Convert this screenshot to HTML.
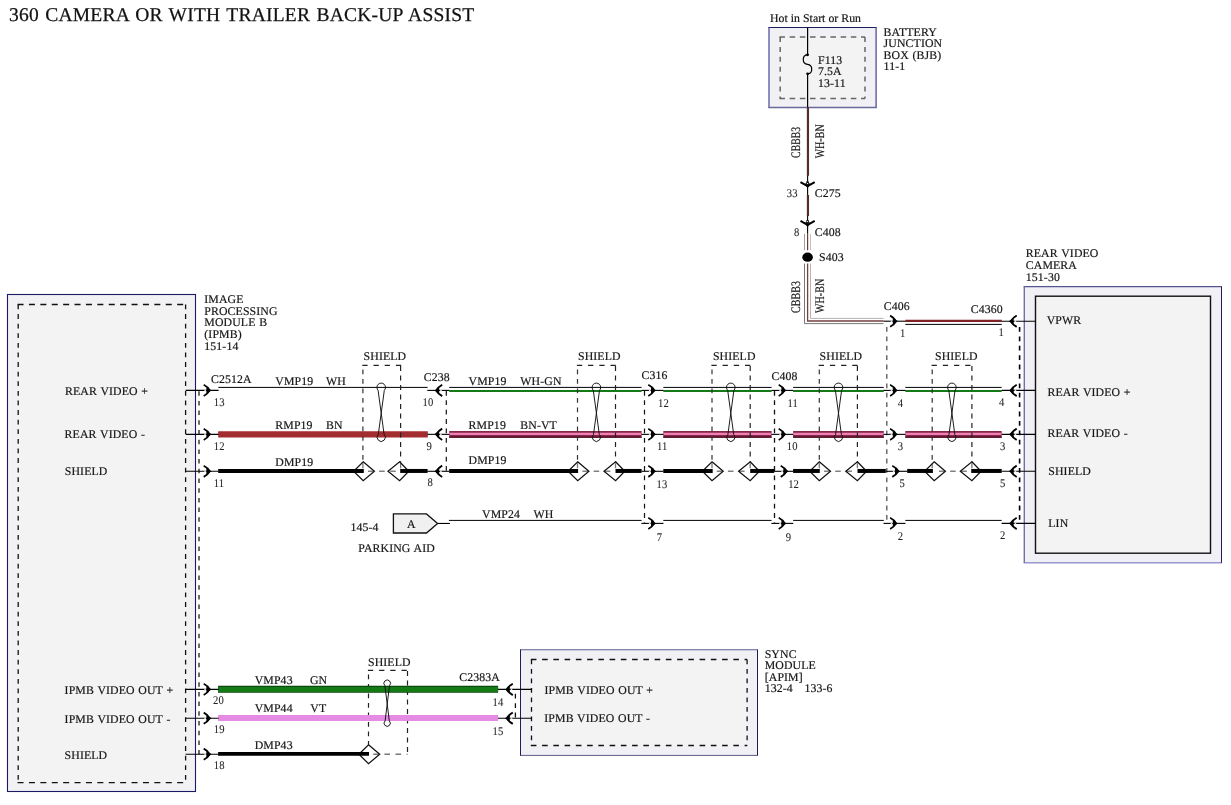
<!DOCTYPE html>
<html lang="en"><head><meta charset="utf-8"><title>360 Camera wiring diagram</title>
<style>html,body{margin:0;padding:0;background:#fff}svg{display:block;will-change:transform;opacity:0.999}text{stroke:#151515;stroke-width:.18px;letter-spacing:.12px;word-spacing:.6px}text.p{fill:#262626;stroke:#262626;stroke-width:.08px}text.t{word-spacing:1.1px;letter-spacing:.235px;stroke-width:.25px}</style></head>
<body>
<svg width="1231" height="805" viewBox="0 0 1231 805" font-family="'Liberation Serif', serif" font-size="11.8" fill="#151515" text-rendering="geometricPrecision">
<rect x="0" y="0" width="1231" height="805" fill="#fff"/>
<text x="9" y="21.3" font-size="19.5" fill="#111" class="t">360 CAMERA OR WITH TRAILER BACK-UP ASSIST</text>
<rect x="769.0" y="27.5" width="107.1" height="80.0" fill="#f1f1f5"/>
<line x1="768.25" y1="27.5" x2="876.9" y2="27.5" stroke="#1e1e5c" stroke-width="1.0"/>
<line x1="768.25" y1="107.5" x2="876.9" y2="107.5" stroke="#6a6a9a" stroke-width="1.3"/>
<line x1="769.0" y1="27.5" x2="769.0" y2="107.5" stroke="#6868ae" stroke-width="1.5"/>
<line x1="876.1" y1="27.5" x2="876.1" y2="107.5" stroke="#6e6ea4" stroke-width="1.6"/>
<rect x="780.2" y="37" width="84.8" height="61.4" fill="#f3f3f3"/>
<line x1="779.45" y1="37" x2="865" y2="37" stroke="#666" stroke-width="1.5" stroke-dasharray="5.5 4.7"/>
<line x1="779.45" y1="98.4" x2="865" y2="98.4" stroke="#666" stroke-width="1.5" stroke-dasharray="5.5 4.7"/>
<line x1="780.2" y1="37" x2="780.2" y2="98.4" stroke="#666" stroke-width="1.5" stroke-dasharray="5 4.9"/>
<line x1="865" y1="37" x2="865" y2="98.4" stroke="#666" stroke-width="1.5" stroke-dasharray="5 4.9"/>
<text x="770" y="21.7" style="letter-spacing:0.03px;word-spacing:0">Hot in Start or Run</text>
<text x="883.6" y="35.6">BATTERY</text>
<text x="883.6" y="47.1">JUNCTION</text>
<text x="883.6" y="58.6">BOX (BJB)</text>
<text x="883.6" y="70.1">11-1</text>
<text x="818" y="63.8">F113</text>
<text x="818" y="75.3">7.5A</text>
<text x="818" y="86.8">13-11</text>
<line x1="807.6" y1="27.4" x2="807.6" y2="54.6" stroke="#000" stroke-width="1.2"/>
<line x1="807.6" y1="74" x2="807.6" y2="107.4" stroke="#000" stroke-width="1.2"/>
<path d="M807.6,54.6 C801.8000000000001,55.3 801.8000000000001,63.5 807.6,64.3 C813.1,65.1 813.1,73.3 807.6,74" fill="none" stroke="#000" stroke-width="1.2"/>
<circle cx="807.6" cy="54.8" r="1.4" fill="#000"/><circle cx="807.6" cy="73.8" r="1.4" fill="#000"/>
<line x1="807.95" y1="107.4" x2="807.95" y2="175.8" stroke="#582c2c" stroke-width="2.2"/>
<line x1="807.6" y1="175.6" x2="807.6" y2="195" stroke="#000" stroke-width="1.1"/>
<g transform="translate(807.6,187.0) rotate(90)"><path d="M-4.9,-7.1 Q-2.6,-3.2 -0.9,0 Q-2.6,3.2 -4.9,7.1" fill="none" stroke="#000" stroke-width="2.0"/><path d="M-3.4,-2.9 L1.6,0 L-3.4,2.9 Z" fill="#000"/></g>
<rect x="806.7" y="181.8" width="1.8" height="2.6" fill="#fff" stroke="#000" stroke-width="0.8"/>
<line x1="807.95" y1="195" x2="807.95" y2="216" stroke="#582c2c" stroke-width="2.2"/>
<line x1="807.6" y1="215.8" x2="807.6" y2="233.8" stroke="#000" stroke-width="1.1"/>
<g transform="translate(807.6,225.8) rotate(90)"><path d="M-4.9,-7.1 Q-2.6,-3.2 -0.9,0 Q-2.6,3.2 -4.9,7.1" fill="none" stroke="#000" stroke-width="2.0"/><path d="M-3.4,-2.9 L1.6,0 L-3.4,2.9 Z" fill="#000"/></g>
<rect x="806.7" y="220.6" width="1.8" height="2.6" fill="#fff" stroke="#000" stroke-width="0.8"/>
<line x1="804.5" y1="233.8" x2="804.5" y2="250.2" stroke="#8a8486" stroke-width="0.8"/>
<line x1="810.5" y1="233.8" x2="810.5" y2="250.2" stroke="#b0a4a4" stroke-width="0.7"/>
<line x1="807.6" y1="233.8" x2="807.6" y2="250.2" stroke="#6b3c3c" stroke-width="1.2"/>
<path d="M804.5,263.6 L804.5,323.6 L883.5,323.6" fill="none" stroke="#666a66" stroke-width="0.9"/>
<path d="M810.5,263.6 L810.5,318.4 L883.5,318.4" fill="none" stroke="#a89e9e" stroke-width="0.8"/>
<path d="M807.6,263.6 L807.6,321.0 L883.5,321.0" fill="none" stroke="#754040" stroke-width="1.3"/>
<ellipse cx="807.6" cy="257.2" rx="5.3" ry="4.6" fill="#000"/>
<text class="p" transform="translate(786.8,196.8) scale(0.9,1)">33</text>
<text x="814.8" y="196.8">C275</text>
<text class="p" transform="translate(794.0,235.6) scale(0.9,1)">8</text>
<text x="814.8" y="235.6">C408</text>
<text x="819" y="261">S403</text>
<text transform="translate(799.9,157.9) rotate(-90)" font-size="13" textLength="31.2" lengthAdjust="spacingAndGlyphs">CBBB3</text>
<text transform="translate(824.0,158.3) rotate(-90)" font-size="13" textLength="34" lengthAdjust="spacingAndGlyphs">WH-BN</text>
<text transform="translate(799.9,313.0) rotate(-90)" font-size="13" textLength="32.0" lengthAdjust="spacingAndGlyphs">CBBB3</text>
<text transform="translate(824.0,313.1) rotate(-90)" font-size="13" textLength="34.3" lengthAdjust="spacingAndGlyphs">WH-BN</text>
<rect x="7.5" y="294.5" width="188.0" height="497.0" stroke="#1a1a66" stroke-width="1.1" fill="#f2f2f4"/>
<rect x="18.2" y="304.5" width="167.4" height="478.1" fill="#f3f3f3"/>
<line x1="17.55" y1="304.5" x2="185.6" y2="304.5" stroke="#111" stroke-width="1.3" stroke-dasharray="6 5.4"/>
<line x1="17.55" y1="782.6" x2="185.6" y2="782.6" stroke="#111" stroke-width="1.3" stroke-dasharray="6 5.4"/>
<line x1="18.2" y1="304.5" x2="18.2" y2="782.6" stroke="#111" stroke-width="1.3" stroke-dasharray="4.8 4.8"/>
<line x1="185.6" y1="304.5" x2="185.6" y2="782.6" stroke="#111" stroke-width="1.3" stroke-dasharray="4.8 4.8"/>
<text x="204.3" y="303.2">IMAGE</text>
<text x="204.3" y="314.82">PROCESSING</text>
<text x="204.3" y="326.44">MODULE B</text>
<text x="204.3" y="338.06">(IPMB)</text>
<text x="204.3" y="349.68">151-14</text>
<text x="65" y="394.8">REAR VIDEO +</text>
<text x="64.6" y="437.9">REAR VIDEO -</text>
<text x="64.8" y="474.5">SHIELD</text>
<text x="64.6" y="694.1">IPMB VIDEO OUT +</text>
<text x="64.6" y="722.9">IPMB VIDEO OUT -</text>
<text x="64.6" y="759.4">SHIELD</text>
<line x1="199.0" y1="391.2" x2="199.0" y2="754.5" stroke="#5c5c5c" stroke-width="1.8" stroke-dasharray="4.5 5.2"/>
<rect x="1024.3" y="286.6" width="197.2" height="276.2" fill="#f1f1f5"/>
<line x1="1023.5999999999999" y1="286.6" x2="1222.0" y2="286.6" stroke="#54548e" stroke-width="1.1"/>
<line x1="1023.5999999999999" y1="562.8" x2="1222.0" y2="562.8" stroke="#9898d2" stroke-width="1.5"/>
<line x1="1024.3" y1="286.6" x2="1024.3" y2="562.8" stroke="#7070a8" stroke-width="1.4"/>
<line x1="1221.5" y1="286.6" x2="1221.5" y2="562.8" stroke="#1e1e5c" stroke-width="1.0"/>
<rect x="1035.5" y="296.2" width="175.0" height="257.0" stroke="#111" stroke-width="1.4" fill="#f3f3f3"/>
<text x="1025.8" y="257.0">REAR VIDEO</text>
<text x="1025.8" y="269.0">CAMERA</text>
<text x="1025.8" y="281.0">151-30</text>
<text x="1046.7" y="323.9">VPWR</text>
<text x="1047.5" y="395.7">REAR VIDEO +</text>
<text x="1047.4" y="437.3">REAR VIDEO -</text>
<text x="1048.3" y="474.9">SHIELD</text>
<text x="1048.3" y="527">LIN</text>
<rect x="520.5" y="649.7" width="237.0" height="105.7" fill="#f1f1f5"/>
<line x1="520.0" y1="649.7" x2="758.0" y2="649.7" stroke="#5e5e94" stroke-width="1.1"/>
<line x1="520.0" y1="755.4" x2="758.0" y2="755.4" stroke="#5c5c86" stroke-width="1.0"/>
<line x1="520.5" y1="649.7" x2="520.5" y2="755.4" stroke="#1c1c60" stroke-width="1.0"/>
<line x1="757.5" y1="649.7" x2="757.5" y2="755.4" stroke="#1c1c58" stroke-width="1.0"/>
<rect x="531.5" y="659.5" width="215.6" height="86.0" fill="#f3f3f3"/>
<line x1="530.85" y1="659.5" x2="747.1" y2="659.5" stroke="#111" stroke-width="1.3" stroke-dasharray="5.6 5.65"/>
<line x1="530.85" y1="745.5" x2="747.1" y2="745.5" stroke="#111" stroke-width="1.3" stroke-dasharray="5.6 5.65"/>
<line x1="531.5" y1="659.5" x2="531.5" y2="745.5" stroke="#111" stroke-width="1.3" stroke-dasharray="4.7 4.8"/>
<line x1="747.1" y1="659.5" x2="747.1" y2="745.5" stroke="#111" stroke-width="1.3" stroke-dasharray="4.7 4.8"/>
<text x="764.7" y="657.8">SYNC</text>
<text x="764.7" y="669.1999999999999">MODULE</text>
<text x="764.7" y="680.5999999999999">[APIM]</text>
<text x="764.7" y="692.0">132-4</text>
<text x="804.5" y="692.0">133-6</text>
<text x="544.5" y="693.5">IPMB VIDEO OUT +</text>
<text x="544.3" y="722.1">IPMB VIDEO OUT -</text>
<line x1="446.3" y1="390.9" x2="446.3" y2="470.8" stroke="#111" stroke-width="1.2" stroke-dasharray="4.8 4.6"/>
<line x1="644.5" y1="390.9" x2="644.5" y2="523.4" stroke="#111" stroke-width="1.2" stroke-dasharray="4.8 4.6"/>
<line x1="774.5" y1="390.9" x2="774.5" y2="523.4" stroke="#111" stroke-width="1.3" stroke-dasharray="4.8 4.6"/>
<line x1="886.8" y1="327" x2="886.8" y2="523.4" stroke="#555" stroke-width="1.3" stroke-dasharray="4.8 4.6"/>
<line x1="1019.6" y1="327" x2="1019.6" y2="523.4" stroke="#000" stroke-width="1.6" stroke-dasharray="4.8 4.6"/>
<line x1="218.3" y1="387.4" x2="427.6" y2="387.4" stroke="#000" stroke-width="1.0"/>
<line x1="449.2" y1="387.4" x2="641.6" y2="387.4" stroke="#000" stroke-width="1.0"/>
<line x1="449.2" y1="390.9" x2="641.6" y2="390.9" stroke="#137a16" stroke-width="2.0"/>
<line x1="663.3" y1="387.4" x2="771.6" y2="387.4" stroke="#000" stroke-width="1.0"/>
<line x1="663.3" y1="390.9" x2="771.6" y2="390.9" stroke="#137a16" stroke-width="2.0"/>
<line x1="793.1" y1="387.4" x2="883.8" y2="387.4" stroke="#000" stroke-width="1.0"/>
<line x1="793.1" y1="390.9" x2="883.8" y2="390.9" stroke="#137a16" stroke-width="2.0"/>
<line x1="905.3" y1="387.4" x2="1001.7" y2="387.4" stroke="#000" stroke-width="1.0"/>
<line x1="905.3" y1="390.9" x2="1001.7" y2="390.9" stroke="#137a16" stroke-width="2.0"/>
<line x1="218.2" y1="434.35" x2="427.8" y2="434.35" stroke="#a22c30" stroke-width="6.4"/>
<line x1="449.2" y1="434.40000000000003" x2="641.6" y2="434.40000000000003" stroke="#84294c" stroke-width="6.8"/>
<line x1="449.2" y1="437.20000000000005" x2="641.6" y2="437.20000000000005" stroke="#4a0b1c" stroke-width="1.2"/>
<line x1="449.2" y1="433.90000000000003" x2="641.6" y2="433.90000000000003" stroke="#f47fb4" stroke-width="2.4"/>
<line x1="663.3" y1="434.40000000000003" x2="771.6" y2="434.40000000000003" stroke="#84294c" stroke-width="6.8"/>
<line x1="663.3" y1="437.20000000000005" x2="771.6" y2="437.20000000000005" stroke="#4a0b1c" stroke-width="1.2"/>
<line x1="663.3" y1="433.90000000000003" x2="771.6" y2="433.90000000000003" stroke="#f47fb4" stroke-width="2.4"/>
<line x1="793.1" y1="434.40000000000003" x2="883.8" y2="434.40000000000003" stroke="#84294c" stroke-width="6.8"/>
<line x1="793.1" y1="437.20000000000005" x2="883.8" y2="437.20000000000005" stroke="#4a0b1c" stroke-width="1.2"/>
<line x1="793.1" y1="433.90000000000003" x2="883.8" y2="433.90000000000003" stroke="#f47fb4" stroke-width="2.4"/>
<line x1="905.3" y1="434.40000000000003" x2="1001.7" y2="434.40000000000003" stroke="#84294c" stroke-width="6.8"/>
<line x1="905.3" y1="437.20000000000005" x2="1001.7" y2="437.20000000000005" stroke="#4a0b1c" stroke-width="1.2"/>
<line x1="905.3" y1="433.90000000000003" x2="1001.7" y2="433.90000000000003" stroke="#f47fb4" stroke-width="2.4"/>
<line x1="448.9" y1="520.4" x2="641.6" y2="520.4" stroke="#000" stroke-width="1.0"/>
<line x1="663.3" y1="520.4" x2="771.6" y2="520.4" stroke="#000" stroke-width="1.0"/>
<line x1="793.1" y1="520.4" x2="883.8" y2="520.4" stroke="#000" stroke-width="1.0"/>
<line x1="905.3" y1="520.4" x2="1001.7" y2="520.4" stroke="#000" stroke-width="1.0"/>
<line x1="905.3" y1="320.8" x2="1001.8" y2="320.8" stroke="#7e2226" stroke-width="2.2"/>
<line x1="905.3" y1="324.4" x2="1001.8" y2="324.4" stroke="#000" stroke-width="1.0"/>
<line x1="362.29999999999995" y1="365.4" x2="401.20000000000005" y2="365.4" stroke="#222" stroke-width="1.2" stroke-dasharray="5.3 5.9"/>
<line x1="362.9" y1="369.4" x2="362.9" y2="461.75" stroke="#333" stroke-width="1.2" stroke-dasharray="4.9 4.6"/>
<line x1="400.6" y1="366.0" x2="400.6" y2="461.75" stroke="#222" stroke-width="1.2" stroke-dasharray="4.9 4.6"/>
<line x1="362.9" y1="463.25" x2="362.9" y2="470.25" stroke="#777" stroke-width="1.3" stroke-dasharray="5 2"/>
<line x1="400.6" y1="463.25" x2="400.6" y2="470.25" stroke="#777" stroke-width="1.3" stroke-dasharray="5 2"/>
<line x1="368.0" y1="471.25" x2="398.6" y2="471.25" stroke="#808080" stroke-width="1.5" stroke-dasharray="5.6 5.5"/>
<path d="M363.2,461.8 L374.4,471.25 L363.2,480.7 L353.59999999999997,471.25 Z" fill="none" stroke="#111" stroke-width="1.25"/>
<path d="M399.6,461.8 L408.8,471.25 L399.6,480.7 L388.0,471.25 Z" fill="none" stroke="#111" stroke-width="1.25"/>
<text x="363.6" y="360.0">SHIELD</text>
<line x1="576.9" y1="365.4" x2="616.1" y2="365.4" stroke="#222" stroke-width="1.2" stroke-dasharray="5.3 5.9"/>
<line x1="577.5" y1="369.4" x2="577.5" y2="461.75" stroke="#333" stroke-width="1.2" stroke-dasharray="4.9 4.6"/>
<line x1="615.5" y1="366.0" x2="615.5" y2="461.75" stroke="#222" stroke-width="1.2" stroke-dasharray="4.9 4.6"/>
<line x1="577.5" y1="463.25" x2="577.5" y2="470.25" stroke="#777" stroke-width="1.3" stroke-dasharray="5 2"/>
<line x1="615.5" y1="463.25" x2="615.5" y2="470.25" stroke="#777" stroke-width="1.3" stroke-dasharray="5 2"/>
<line x1="582.5" y1="471.25" x2="614.6" y2="471.25" stroke="#808080" stroke-width="1.5" stroke-dasharray="5.6 5.5"/>
<path d="M577.7,461.8 L588.9000000000001,471.25 L577.7,480.7 L568.1,471.25 Z" fill="none" stroke="#111" stroke-width="1.25"/>
<path d="M615.6,461.8 L624.8000000000001,471.25 L615.6,480.7 L604.0,471.25 Z" fill="none" stroke="#111" stroke-width="1.25"/>
<text x="578.0" y="360.0">SHIELD</text>
<line x1="711.4" y1="365.4" x2="750.8000000000001" y2="365.4" stroke="#222" stroke-width="1.2" stroke-dasharray="5.3 5.9"/>
<line x1="712.0" y1="369.4" x2="712.0" y2="461.75" stroke="#333" stroke-width="1.2" stroke-dasharray="4.9 4.6"/>
<line x1="750.2" y1="366.0" x2="750.2" y2="461.75" stroke="#222" stroke-width="1.2" stroke-dasharray="4.9 4.6"/>
<line x1="712.0" y1="463.25" x2="712.0" y2="470.25" stroke="#777" stroke-width="1.3" stroke-dasharray="5 2"/>
<line x1="750.2" y1="463.25" x2="750.2" y2="470.25" stroke="#777" stroke-width="1.3" stroke-dasharray="5 2"/>
<line x1="716.8" y1="471.25" x2="749.2" y2="471.25" stroke="#808080" stroke-width="1.5" stroke-dasharray="5.6 5.5"/>
<path d="M712.0,461.8 L723.2,471.25 L712.0,480.7 L702.4,471.25 Z" fill="none" stroke="#111" stroke-width="1.25"/>
<path d="M750.2,461.8 L759.4000000000001,471.25 L750.2,480.7 L738.6,471.25 Z" fill="none" stroke="#111" stroke-width="1.25"/>
<text x="712.9" y="360.0">SHIELD</text>
<line x1="818.6999999999999" y1="365.4" x2="858.0" y2="365.4" stroke="#222" stroke-width="1.2" stroke-dasharray="5.3 5.9"/>
<line x1="819.3" y1="369.4" x2="819.3" y2="461.75" stroke="#333" stroke-width="1.2" stroke-dasharray="4.9 4.6"/>
<line x1="857.4" y1="366.0" x2="857.4" y2="461.75" stroke="#222" stroke-width="1.2" stroke-dasharray="4.9 4.6"/>
<line x1="819.3" y1="463.25" x2="819.3" y2="470.25" stroke="#777" stroke-width="1.3" stroke-dasharray="5 2"/>
<line x1="857.4" y1="463.25" x2="857.4" y2="470.25" stroke="#777" stroke-width="1.3" stroke-dasharray="5 2"/>
<line x1="824.0999999999999" y1="471.25" x2="856.4" y2="471.25" stroke="#808080" stroke-width="1.5" stroke-dasharray="5.6 5.5"/>
<path d="M819.3,461.8 L830.5,471.25 L819.3,480.7 L809.6999999999999,471.25 Z" fill="none" stroke="#111" stroke-width="1.25"/>
<path d="M857.4,461.8 L866.6,471.25 L857.4,480.7 L845.8,471.25 Z" fill="none" stroke="#111" stroke-width="1.25"/>
<text x="819.6" y="360.0">SHIELD</text>
<line x1="931.6" y1="365.4" x2="972.5" y2="365.4" stroke="#222" stroke-width="1.2" stroke-dasharray="5.3 5.9"/>
<line x1="932.2" y1="369.4" x2="932.2" y2="461.75" stroke="#333" stroke-width="1.2" stroke-dasharray="4.9 4.6"/>
<line x1="971.9" y1="366.0" x2="971.9" y2="461.75" stroke="#222" stroke-width="1.2" stroke-dasharray="4.9 4.6"/>
<line x1="932.2" y1="463.25" x2="932.2" y2="470.25" stroke="#777" stroke-width="1.3" stroke-dasharray="5 2"/>
<line x1="971.9" y1="463.25" x2="971.9" y2="470.25" stroke="#777" stroke-width="1.3" stroke-dasharray="5 2"/>
<line x1="939.0" y1="471.25" x2="970.9" y2="471.25" stroke="#808080" stroke-width="1.5" stroke-dasharray="5.6 5.5"/>
<path d="M934.2,461.8 L945.4000000000001,471.25 L934.2,480.7 L924.6,471.25 Z" fill="none" stroke="#111" stroke-width="1.25"/>
<path d="M971.9,461.8 L981.1,471.25 L971.9,480.7 L960.3,471.25 Z" fill="none" stroke="#111" stroke-width="1.25"/>
<text x="935.0" y="360.0">SHIELD</text>
<path d="M378.10,390.38 A4.3,4.3 0 1 1 384.30,390.38 L378.30,434.40 A4.10,4.10 0 1 0 384.10,434.40 Z" fill="none" stroke="#111" stroke-width="0.95"/>
<path d="M593.30,390.38 A4.3,4.3 0 1 1 599.50,390.38 L593.50,434.40 A4.10,4.10 0 1 0 599.30,434.40 Z" fill="none" stroke="#111" stroke-width="0.95"/>
<path d="M727.70,390.38 A4.3,4.3 0 1 1 733.90,390.38 L727.90,434.40 A4.10,4.10 0 1 0 733.70,434.40 Z" fill="none" stroke="#111" stroke-width="0.95"/>
<path d="M835.40,390.38 A4.3,4.3 0 1 1 841.60,390.38 L835.60,434.40 A4.10,4.10 0 1 0 841.40,434.40 Z" fill="none" stroke="#111" stroke-width="0.95"/>
<path d="M948.80,390.38 A4.3,4.3 0 1 1 955.00,390.38 L949.00,434.40 A4.10,4.10 0 1 0 954.80,434.40 Z" fill="none" stroke="#111" stroke-width="0.95"/>
<line x1="218.2" y1="470.95" x2="363.8" y2="470.95" stroke="#000" stroke-width="4.0"/>
<line x1="400.2" y1="470.95" x2="427.6" y2="470.95" stroke="#000" stroke-width="4.0"/>
<line x1="449.2" y1="470.95" x2="578.1" y2="470.95" stroke="#000" stroke-width="4.0"/>
<line x1="615.5" y1="470.95" x2="641.6" y2="470.95" stroke="#000" stroke-width="4.0"/>
<line x1="663.3" y1="470.95" x2="712.7" y2="470.95" stroke="#000" stroke-width="4.0"/>
<line x1="750.2" y1="470.95" x2="774.2" y2="470.95" stroke="#000" stroke-width="4.0"/>
<line x1="793.1" y1="470.95" x2="819.8" y2="470.95" stroke="#000" stroke-width="4.0"/>
<line x1="857.5" y1="470.95" x2="885.8" y2="470.95" stroke="#000" stroke-width="4.0"/>
<line x1="907.2" y1="470.95" x2="932.9" y2="470.95" stroke="#000" stroke-width="4.0"/>
<line x1="971.2" y1="470.95" x2="1001.7" y2="470.95" stroke="#000" stroke-width="4.0"/>
<line x1="185.6" y1="390.4" x2="218.6" y2="390.4" stroke="#000" stroke-width="1.1"/>
<g transform="translate(210.7,390.4)"><path d="M-7.0,-5.6 Q-3.1,-3.7 -1.0,0 Q-3.1,3.7 -7.0,5.6" fill="none" stroke="#000" stroke-width="1.8"/><path d="M-4.3,-3.2 L0.9,0 L-4.3,3.2 Z" fill="#000"/></g>
<rect x="204.3" y="389.5" width="1.6" height="1.8" fill="#e0e0e0"/>
<line x1="427.3" y1="390.4" x2="449.4" y2="390.4" stroke="#000" stroke-width="1.1"/>
<g transform="translate(435.3,390.4) scale(-1,1)"><path d="M-6.9,-5.7 Q-2.9,-3.4 -0.8,0 Q-2.9,3.4 -6.9,5.7" fill="none" stroke="#000" stroke-width="1.9"/><path d="M-3.9,-2.8 L0.9,0 L-3.9,2.8 Z" fill="#000"/></g>
<rect x="440.1" y="389.5" width="1.6" height="1.8" fill="#e0e0e0"/>
<line x1="185.6" y1="434.35" x2="218.6" y2="434.35" stroke="#000" stroke-width="1.1"/>
<g transform="translate(210.7,434.35)"><path d="M-7.0,-5.6 Q-3.1,-3.7 -1.0,0 Q-3.1,3.7 -7.0,5.6" fill="none" stroke="#000" stroke-width="1.8"/><path d="M-4.3,-3.2 L0.9,0 L-4.3,3.2 Z" fill="#000"/></g>
<rect x="204.3" y="433.45" width="1.6" height="1.8" fill="#e0e0e0"/>
<line x1="427.3" y1="434.35" x2="449.4" y2="434.35" stroke="#000" stroke-width="1.1"/>
<g transform="translate(435.3,434.35) scale(-1,1)"><path d="M-6.9,-5.7 Q-2.9,-3.4 -0.8,0 Q-2.9,3.4 -6.9,5.7" fill="none" stroke="#000" stroke-width="1.9"/><path d="M-3.9,-2.8 L0.9,0 L-3.9,2.8 Z" fill="#000"/></g>
<rect x="440.1" y="433.45" width="1.6" height="1.8" fill="#e0e0e0"/>
<line x1="185.6" y1="471.3" x2="218.6" y2="471.3" stroke="#000" stroke-width="1.1"/>
<g transform="translate(210.7,471.3)"><path d="M-7.0,-5.6 Q-3.1,-3.7 -1.0,0 Q-3.1,3.7 -7.0,5.6" fill="none" stroke="#000" stroke-width="1.8"/><path d="M-4.3,-3.2 L0.9,0 L-4.3,3.2 Z" fill="#000"/></g>
<rect x="204.3" y="470.4" width="1.6" height="1.8" fill="#e0e0e0"/>
<line x1="427.3" y1="471.3" x2="449.4" y2="471.3" stroke="#000" stroke-width="1.1"/>
<g transform="translate(435.3,471.3) scale(-1,1)"><path d="M-6.9,-5.7 Q-2.9,-3.4 -0.8,0 Q-2.9,3.4 -6.9,5.7" fill="none" stroke="#000" stroke-width="1.9"/><path d="M-3.9,-2.8 L0.9,0 L-3.9,2.8 Z" fill="#000"/></g>
<rect x="440.1" y="470.4" width="1.6" height="1.8" fill="#e0e0e0"/>
<line x1="641.4" y1="390.4" x2="663.5" y2="390.4" stroke="#000" stroke-width="1.1"/>
<g transform="translate(655.3,390.4)"><path d="M-7.0,-5.6 Q-3.1,-3.7 -1.0,0 Q-3.1,3.7 -7.0,5.6" fill="none" stroke="#000" stroke-width="1.8"/><path d="M-4.3,-3.2 L0.9,0 L-4.3,3.2 Z" fill="#000"/></g>
<rect x="648.9" y="389.5" width="1.6" height="1.8" fill="#e0e0e0"/>
<line x1="641.4" y1="434.35" x2="663.5" y2="434.35" stroke="#000" stroke-width="1.1"/>
<g transform="translate(655.3,434.35)"><path d="M-7.0,-5.6 Q-3.1,-3.7 -1.0,0 Q-3.1,3.7 -7.0,5.6" fill="none" stroke="#000" stroke-width="1.8"/><path d="M-4.3,-3.2 L0.9,0 L-4.3,3.2 Z" fill="#000"/></g>
<rect x="648.9" y="433.45" width="1.6" height="1.8" fill="#e0e0e0"/>
<line x1="641.4" y1="471.3" x2="663.5" y2="471.3" stroke="#000" stroke-width="1.1"/>
<g transform="translate(655.3,471.3)"><path d="M-7.0,-5.6 Q-3.1,-3.7 -1.0,0 Q-3.1,3.7 -7.0,5.6" fill="none" stroke="#000" stroke-width="1.8"/><path d="M-4.3,-3.2 L0.9,0 L-4.3,3.2 Z" fill="#000"/></g>
<rect x="648.9" y="470.4" width="1.6" height="1.8" fill="#e0e0e0"/>
<line x1="641.4" y1="523.4" x2="663.5" y2="523.4" stroke="#000" stroke-width="1.1"/>
<g transform="translate(655.3,523.4)"><path d="M-7.0,-5.6 Q-3.1,-3.7 -1.0,0 Q-3.1,3.7 -7.0,5.6" fill="none" stroke="#000" stroke-width="1.8"/><path d="M-4.3,-3.2 L0.9,0 L-4.3,3.2 Z" fill="#000"/></g>
<rect x="648.9" y="522.5" width="1.6" height="1.8" fill="#e0e0e0"/>
<line x1="771.4" y1="390.4" x2="793.3" y2="390.4" stroke="#000" stroke-width="1.1"/>
<g transform="translate(785.7,390.4)"><path d="M-7.0,-5.6 Q-3.1,-3.7 -1.0,0 Q-3.1,3.7 -7.0,5.6" fill="none" stroke="#000" stroke-width="1.8"/><path d="M-4.3,-3.2 L0.9,0 L-4.3,3.2 Z" fill="#000"/></g>
<rect x="779.3" y="389.5" width="1.6" height="1.8" fill="#e0e0e0"/>
<line x1="771.4" y1="434.35" x2="793.3" y2="434.35" stroke="#000" stroke-width="1.1"/>
<g transform="translate(785.7,434.35)"><path d="M-7.0,-5.6 Q-3.1,-3.7 -1.0,0 Q-3.1,3.7 -7.0,5.6" fill="none" stroke="#000" stroke-width="1.8"/><path d="M-4.3,-3.2 L0.9,0 L-4.3,3.2 Z" fill="#000"/></g>
<rect x="779.3" y="433.45" width="1.6" height="1.8" fill="#e0e0e0"/>
<line x1="771.4" y1="523.4" x2="793.3" y2="523.4" stroke="#000" stroke-width="1.1"/>
<g transform="translate(785.7,523.4)"><path d="M-7.0,-5.6 Q-3.1,-3.7 -1.0,0 Q-3.1,3.7 -7.0,5.6" fill="none" stroke="#000" stroke-width="1.8"/><path d="M-4.3,-3.2 L0.9,0 L-4.3,3.2 Z" fill="#000"/></g>
<rect x="779.3" y="522.5" width="1.6" height="1.8" fill="#e0e0e0"/>
<line x1="774.0" y1="471.3" x2="793.3" y2="471.3" stroke="#000" stroke-width="1.1"/>
<g transform="translate(787.7,471.3)"><path d="M-7.0,-5.6 Q-3.1,-3.7 -1.0,0 Q-3.1,3.7 -7.0,5.6" fill="none" stroke="#000" stroke-width="1.8"/><path d="M-4.3,-3.2 L0.9,0 L-4.3,3.2 Z" fill="#000"/></g>
<rect x="781.3" y="470.4" width="1.6" height="1.8" fill="#e0e0e0"/>
<line x1="883.5" y1="321.2" x2="905.5" y2="321.2" stroke="#000" stroke-width="1.1"/>
<g transform="translate(897.1,321.2)"><path d="M-7.0,-5.6 Q-3.1,-3.7 -1.0,0 Q-3.1,3.7 -7.0,5.6" fill="none" stroke="#000" stroke-width="1.8"/><path d="M-4.3,-3.2 L0.9,0 L-4.3,3.2 Z" fill="#000"/></g>
<rect x="890.7" y="320.3" width="1.6" height="1.8" fill="#e0e0e0"/>
<line x1="883.5" y1="390.4" x2="905.5" y2="390.4" stroke="#000" stroke-width="1.1"/>
<g transform="translate(897.1,390.4)"><path d="M-7.0,-5.6 Q-3.1,-3.7 -1.0,0 Q-3.1,3.7 -7.0,5.6" fill="none" stroke="#000" stroke-width="1.8"/><path d="M-4.3,-3.2 L0.9,0 L-4.3,3.2 Z" fill="#000"/></g>
<rect x="890.7" y="389.5" width="1.6" height="1.8" fill="#e0e0e0"/>
<line x1="883.5" y1="434.35" x2="905.5" y2="434.35" stroke="#000" stroke-width="1.1"/>
<g transform="translate(897.1,434.35)"><path d="M-7.0,-5.6 Q-3.1,-3.7 -1.0,0 Q-3.1,3.7 -7.0,5.6" fill="none" stroke="#000" stroke-width="1.8"/><path d="M-4.3,-3.2 L0.9,0 L-4.3,3.2 Z" fill="#000"/></g>
<rect x="890.7" y="433.45" width="1.6" height="1.8" fill="#e0e0e0"/>
<line x1="883.5" y1="523.4" x2="905.5" y2="523.4" stroke="#000" stroke-width="1.1"/>
<g transform="translate(897.1,523.4)"><path d="M-7.0,-5.6 Q-3.1,-3.7 -1.0,0 Q-3.1,3.7 -7.0,5.6" fill="none" stroke="#000" stroke-width="1.8"/><path d="M-4.3,-3.2 L0.9,0 L-4.3,3.2 Z" fill="#000"/></g>
<rect x="890.7" y="522.5" width="1.6" height="1.8" fill="#e0e0e0"/>
<line x1="885.6" y1="471.3" x2="907.4" y2="471.3" stroke="#000" stroke-width="1.1"/>
<g transform="translate(899.3,471.3)"><path d="M-7.0,-5.6 Q-3.1,-3.7 -1.0,0 Q-3.1,3.7 -7.0,5.6" fill="none" stroke="#000" stroke-width="1.8"/><path d="M-4.3,-3.2 L0.9,0 L-4.3,3.2 Z" fill="#000"/></g>
<rect x="892.9" y="470.4" width="1.6" height="1.8" fill="#e0e0e0"/>
<line x1="1001.6" y1="321.2" x2="1035.4" y2="321.2" stroke="#000" stroke-width="1.1"/>
<g transform="translate(1009.8,321.2) scale(-1,1)"><path d="M-6.9,-5.7 Q-2.9,-3.4 -0.8,0 Q-2.9,3.4 -6.9,5.7" fill="none" stroke="#000" stroke-width="1.9"/><path d="M-3.9,-2.8 L0.9,0 L-3.9,2.8 Z" fill="#000"/></g>
<rect x="1014.6" y="320.3" width="1.6" height="1.8" fill="#e0e0e0"/>
<line x1="1001.6" y1="390.4" x2="1035.4" y2="390.4" stroke="#000" stroke-width="1.1"/>
<g transform="translate(1009.8,390.4) scale(-1,1)"><path d="M-6.9,-5.7 Q-2.9,-3.4 -0.8,0 Q-2.9,3.4 -6.9,5.7" fill="none" stroke="#000" stroke-width="1.9"/><path d="M-3.9,-2.8 L0.9,0 L-3.9,2.8 Z" fill="#000"/></g>
<rect x="1014.6" y="389.5" width="1.6" height="1.8" fill="#e0e0e0"/>
<line x1="1001.6" y1="434.35" x2="1035.4" y2="434.35" stroke="#000" stroke-width="1.1"/>
<g transform="translate(1009.8,434.35) scale(-1,1)"><path d="M-6.9,-5.7 Q-2.9,-3.4 -0.8,0 Q-2.9,3.4 -6.9,5.7" fill="none" stroke="#000" stroke-width="1.9"/><path d="M-3.9,-2.8 L0.9,0 L-3.9,2.8 Z" fill="#000"/></g>
<rect x="1014.6" y="433.45" width="1.6" height="1.8" fill="#e0e0e0"/>
<line x1="1001.6" y1="471.3" x2="1035.4" y2="471.3" stroke="#000" stroke-width="1.1"/>
<g transform="translate(1009.8,471.3) scale(-1,1)"><path d="M-6.9,-5.7 Q-2.9,-3.4 -0.8,0 Q-2.9,3.4 -6.9,5.7" fill="none" stroke="#000" stroke-width="1.9"/><path d="M-3.9,-2.8 L0.9,0 L-3.9,2.8 Z" fill="#000"/></g>
<rect x="1014.6" y="470.4" width="1.6" height="1.8" fill="#e0e0e0"/>
<line x1="1001.6" y1="523.4" x2="1035.4" y2="523.4" stroke="#000" stroke-width="1.1"/>
<g transform="translate(1009.8,523.4) scale(-1,1)"><path d="M-6.9,-5.7 Q-2.9,-3.4 -0.8,0 Q-2.9,3.4 -6.9,5.7" fill="none" stroke="#000" stroke-width="1.9"/><path d="M-3.9,-2.8 L0.9,0 L-3.9,2.8 Z" fill="#000"/></g>
<rect x="1014.6" y="522.5" width="1.6" height="1.8" fill="#e0e0e0"/>
<text x="211.0" y="383.3">C2512A</text>
<text x="423.8" y="380.7">C238</text>
<text x="641.5" y="379.3">C316</text>
<text x="771.4" y="379.8">C408</text>
<text x="883.7" y="309.8">C406</text>
<text x="970.7" y="313.3">C4360</text>
<text class="p" transform="translate(213.8,406.3) scale(0.9,1)">13</text>
<text class="p" transform="translate(213.8,450.0) scale(0.9,1)">12</text>
<text class="p" transform="translate(213.8,487.1) scale(0.9,1)">11</text>
<text class="p" transform="translate(422.6,406.1) scale(0.9,1)">10</text>
<text class="p" transform="translate(426.6,449.9) scale(0.9,1)">9</text>
<text class="p" transform="translate(427.6,486.3) scale(0.9,1)">8</text>
<text class="p" transform="translate(658.0,406.6) scale(0.9,1)">12</text>
<text class="p" transform="translate(657.0,450.3) scale(0.9,1)">11</text>
<text class="p" transform="translate(656.5,487.5) scale(0.9,1)">13</text>
<text class="p" transform="translate(656.8,540.5) scale(0.9,1)">7</text>
<text class="p" transform="translate(787.6,406.5) scale(0.9,1)">11</text>
<text class="p" transform="translate(786.8,450.3) scale(0.9,1)">10</text>
<text class="p" transform="translate(788.2,487.5) scale(0.9,1)">12</text>
<text class="p" transform="translate(785.8,540.5) scale(0.9,1)">9</text>
<text class="p" transform="translate(900.0,337.0) scale(0.9,1)">1</text>
<text class="p" transform="translate(897.8,406.8) scale(0.9,1)">4</text>
<text class="p" transform="translate(897.8,449.8) scale(0.9,1)">3</text>
<text class="p" transform="translate(899.4,487.1) scale(0.9,1)">5</text>
<text class="p" transform="translate(897.8,539.7) scale(0.9,1)">2</text>
<text class="p" transform="translate(998.6,336.1) scale(0.9,1)">1</text>
<text class="p" transform="translate(999.0,405.7) scale(0.9,1)">4</text>
<text class="p" transform="translate(1000.0,449.8) scale(0.9,1)">3</text>
<text class="p" transform="translate(1000.0,487.1) scale(0.9,1)">5</text>
<text class="p" transform="translate(1000.0,539.3) scale(0.9,1)">2</text>
<text x="275.3" y="384.5">VMP19</text>
<text x="326.0" y="384.5">WH</text>
<text x="275.3" y="428.9">RMP19</text>
<text x="326.0" y="428.9">BN</text>
<text x="275.3" y="465.6">DMP19</text>
<text x="468.6" y="385.0">VMP19</text>
<text x="520.3" y="385.0">WH-GN</text>
<text x="468.6" y="428.9">RMP19</text>
<text x="520.3" y="428.9">BN-VT</text>
<text x="468.6" y="463.9">DMP19</text>
<text x="482.1" y="518.0">VMP24</text>
<text x="533.4" y="518.0">WH</text>
<path d="M393.4,513.9 L426.5,513.9 L437.6,523.5 L426.5,533.0 L393.4,533.0 Z" fill="#f0f0f0" stroke="#111" stroke-width="1.3"/>
<line x1="437.6" y1="523.45" x2="449.9" y2="523.45" stroke="#000" stroke-width="1.1"/>
<text x="411.3" y="527.6" text-anchor="middle">A</text>
<text x="350.5" y="530.7">145-4</text>
<text x="358.3" y="551.9">PARKING AID</text>
<line x1="367.9" y1="670.4" x2="408.1" y2="670.4" stroke="#222" stroke-width="1.2" stroke-dasharray="5.3 5.9"/>
<line x1="368.5" y1="674.4" x2="368.5" y2="744.7" stroke="#222" stroke-width="1.2" stroke-dasharray="4.9 4.6"/>
<line x1="407.5" y1="671" x2="407.5" y2="754.2" stroke="#222" stroke-width="1.2" stroke-dasharray="4.9 4.6"/>
<line x1="373.3" y1="754.2" x2="407.5" y2="754.2" stroke="#777" stroke-width="1.5" stroke-dasharray="5.6 5.5"/>
<path d="M368.5,744.75 L379.7,754.2 L368.5,763.6500000000001 L358.9,754.2 Z" fill="none" stroke="#111" stroke-width="1.25"/>
<text x="368.0" y="665.5">SHIELD</text>
<line x1="218.1" y1="689.3" x2="498.1" y2="689.3" stroke="#0a3d0c" stroke-width="6.9"/>
<line x1="218.1" y1="689.3" x2="498.1" y2="689.3" stroke="#137a16" stroke-width="5.2"/>
<line x1="218.1" y1="718.0" x2="498.1" y2="718.0" stroke="#e58be3" stroke-width="5.9"/>
<line x1="218.1" y1="753.9000000000001" x2="369.0" y2="753.9000000000001" stroke="#000" stroke-width="3.9"/>
<path d="M384.90,685.67 A3.3,3.3 0 1 1 389.50,685.67 L385.10,720.92 A3.10,3.10 0 1 0 389.30,720.92 Z" fill="none" stroke="#111" stroke-width="0.95"/>
<line x1="185.6" y1="689.4" x2="218.6" y2="689.4" stroke="#000" stroke-width="1.1"/>
<g transform="translate(210.7,689.4)"><path d="M-7.0,-5.6 Q-3.1,-3.7 -1.0,0 Q-3.1,3.7 -7.0,5.6" fill="none" stroke="#000" stroke-width="1.8"/><path d="M-4.3,-3.2 L0.9,0 L-4.3,3.2 Z" fill="#000"/></g>
<rect x="204.3" y="688.5" width="1.6" height="1.8" fill="#e0e0e0"/>
<line x1="185.6" y1="718.2" x2="218.6" y2="718.2" stroke="#000" stroke-width="1.1"/>
<g transform="translate(210.7,718.2)"><path d="M-7.0,-5.6 Q-3.1,-3.7 -1.0,0 Q-3.1,3.7 -7.0,5.6" fill="none" stroke="#000" stroke-width="1.8"/><path d="M-4.3,-3.2 L0.9,0 L-4.3,3.2 Z" fill="#000"/></g>
<rect x="204.3" y="717.3" width="1.6" height="1.8" fill="#e0e0e0"/>
<line x1="185.6" y1="754.2" x2="218.6" y2="754.2" stroke="#000" stroke-width="1.1"/>
<g transform="translate(210.7,754.2)"><path d="M-7.0,-5.6 Q-3.1,-3.7 -1.0,0 Q-3.1,3.7 -7.0,5.6" fill="none" stroke="#000" stroke-width="1.8"/><path d="M-4.3,-3.2 L0.9,0 L-4.3,3.2 Z" fill="#000"/></g>
<rect x="204.3" y="753.3" width="1.6" height="1.8" fill="#e0e0e0"/>
<line x1="515.4" y1="693.8" x2="515.4" y2="718.8000000000001" stroke="#111" stroke-width="1.3" stroke-dasharray="4.8 4.6"/>
<line x1="498.0" y1="689.4" x2="531.6" y2="689.4" stroke="#000" stroke-width="1.1"/>
<g transform="translate(505.9,689.4) scale(-1,1)"><path d="M-6.9,-5.7 Q-2.9,-3.4 -0.8,0 Q-2.9,3.4 -6.9,5.7" fill="none" stroke="#000" stroke-width="1.9"/><path d="M-3.9,-2.8 L0.9,0 L-3.9,2.8 Z" fill="#000"/></g>
<rect x="510.7" y="688.5" width="1.6" height="1.8" fill="#e0e0e0"/>
<line x1="498.0" y1="718.2" x2="531.6" y2="718.2" stroke="#000" stroke-width="1.1"/>
<g transform="translate(505.9,718.2) scale(-1,1)"><path d="M-6.9,-5.7 Q-2.9,-3.4 -0.8,0 Q-2.9,3.4 -6.9,5.7" fill="none" stroke="#000" stroke-width="1.9"/><path d="M-3.9,-2.8 L0.9,0 L-3.9,2.8 Z" fill="#000"/></g>
<rect x="510.7" y="717.3" width="1.6" height="1.8" fill="#e0e0e0"/>
<text x="459.3" y="680.6">C2383A</text>
<text class="p" transform="translate(213.0,703.9) scale(0.9,1)">20</text>
<text class="p" transform="translate(213.8,733.3) scale(0.9,1)">19</text>
<text class="p" transform="translate(213.8,768.7) scale(0.9,1)">18</text>
<text class="p" transform="translate(492.6,705.6) scale(0.9,1)">14</text>
<text class="p" transform="translate(492.6,735.0) scale(0.9,1)">15</text>
<text x="254.7" y="683.9">VMP43</text>
<text x="309.9" y="683.9">GN</text>
<text x="254.7" y="712.4">VMP44</text>
<text x="310.3" y="712.4">VT</text>
<text x="254.7" y="748.9">DMP43</text>
</svg>
</body></html>
